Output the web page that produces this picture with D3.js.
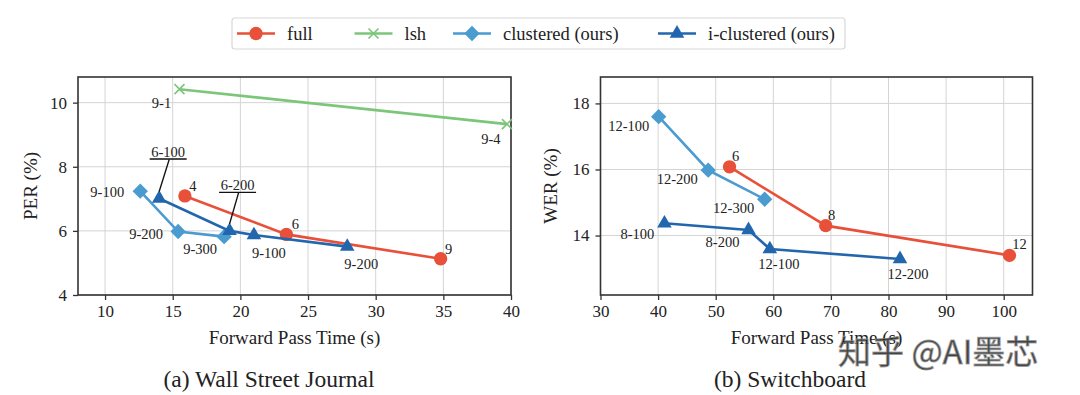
<!DOCTYPE html>
<html>
<head>
<meta charset="utf-8">
<script src="https://cdn.jsdelivr.net/npm/d3@7"></script>
<style>
  body { margin: 0; background: #fff; }
  text { font-family: "Liberation Serif", "DejaVu Serif", serif; fill: #222; }
</style>
</head>
<body>
<svg id="chart" width="1080" height="395" font-family="Liberation Serif, serif"></svg>
<script>
// series names + colours
const seriesNames = ["full", "lsh", "clustered (ours)", "i-clustered (ours)"];
const seriesColors = ["#e8503a", "#7cc67a", "#4a9bd0", "#2266ae"];

// (a) Wall Street Journal
const wsjFullTime = [15.9, 23.4, 34.8];
const wsjFullPER = [7.09, 5.89, 5.13];
const wsjFullLabels = ["4", "6", "9"];
const wsjLshTime = [15.5, 39.7];
const wsjLshPER = [10.42, 9.33];
const wsjLshLabels = ["9-1", "9-4"];
const wsjClTime = [12.6, 15.4, 18.8];
const wsjClPER = [7.24, 5.98, 5.82];
const wsjClLabels = ["9-100", "9-200", "9-300"];
const wsjIclTime = [14.0, 19.2, 21.0, 27.9];
const wsjIclPER = [7.01, 6.0, 5.87, 5.51];
const wsjIclLabels = ["6-100", "6-200", "9-100", "9-200"];
const wsjXTicks = [10, 15, 20, 25, 30, 35, 40];
const wsjYTicks = [4, 6, 8, 10];

// (b) Switchboard
const swbFullTime = [52.4, 69.1, 101.0];
const swbFullWER = [16.08, 14.3, 13.4];
const swbFullLabels = ["6", "8", "12"];
const swbClTime = [40.1, 48.7, 58.5];
const swbClWER = [17.6, 15.98, 15.1];
const swbClLabels = ["12-100", "12-200", "12-300"];
const swbIclTime = [41.1, 55.7, 59.4, 82.0];
const swbIclWER = [14.37, 14.17, 13.59, 13.29];
const swbIclLabels = ["8-100", "8-200", "12-100", "12-200"];
const swbXTicks = [30, 40, 50, 60, 70, 80, 90, 100];
const swbYTicks = [14, 16, 18];

const serif = "'Liberation Serif', 'DejaVu Serif', serif";
const svg = d3.select("#chart");

const zip = (xs, ys, ls) => xs.map((x, i) => ({x: x, y: ys[i], label: ls[i]}));

// marker shapes
const markerPath = function (kind) {
  if (kind === "circle") return d3.symbol().type(d3.symbolCircle).size(140)();
  if (kind === "diamond") return d3.symbol().type(d3.symbolSquare).size(118)();
  if (kind === "triangle") return d3.symbol().type(d3.symbolTriangle).size(92)();
  return "M-5,-5L5,5M-5,5L5,-5";
};
const markerKinds = ["circle", "x", "diamond", "triangle"];

const drawMarker = function (g, kind, color, x, y) {
  const p = g.append("path")
    .attr("d", markerPath(kind))
    .attr("transform", "translate(" + x + "," + y + ")" + (kind === "diamond" ? " rotate(45)" : ""));
  if (kind === "x") {
    p.attr("fill", "none").attr("stroke", color).attr("stroke-width", 1.6);
  } else {
    p.attr("fill", color);
  }
};

// draws one panel
const drawPanel = function (cfg) {
  const x = d3.scaleLinear().domain(cfg.xDomain).range([cfg.left, cfg.right]);
  const y = d3.scaleLinear().domain(cfg.yDomain).range([cfg.bottom, cfg.top]);
  const g = svg.append("g");

  // grid
  g.selectAll(".gx").data(cfg.xTicks).enter().append("line")
    .attr("x1", d => x(d)).attr("x2", d => x(d))
    .attr("y1", cfg.top).attr("y2", cfg.bottom)
    .attr("stroke", "#d4d4d4").attr("stroke-width", 1);
  g.selectAll(".gy").data(cfg.yTicks).enter().append("line")
    .attr("x1", cfg.left).attr("x2", cfg.right)
    .attr("y1", d => y(d)).attr("y2", d => y(d))
    .attr("stroke", "#d4d4d4").attr("stroke-width", 1);

  // axes
  const xAxis = g.append("g").attr("transform", "translate(0," + cfg.bottom + ")")
    .call(d3.axisBottom(x).tickValues(cfg.xTicks).tickFormat(d3.format("d"))
      .tickSize(5).tickPadding(5).tickSizeOuter(0));
  const yAxis = g.append("g").attr("transform", "translate(" + cfg.left + ",0)")
    .call(d3.axisLeft(y).tickValues(cfg.yTicks).tickFormat(d3.format("d"))
      .tickSize(5).tickPadding(6).tickSizeOuter(0));
  [xAxis, yAxis].forEach(a => {
    a.attr("font-family", null);
    a.select(".domain").remove();
    a.selectAll("line").attr("stroke", "#333").attr("stroke-width", 1.3);
    a.selectAll("text").style("font-family", serif)
      .style("font-size", "17px").attr("fill", "#222");
  });

  // frame
  g.append("rect")
    .attr("x", cfg.left).attr("y", cfg.top)
    .attr("width", cfg.right - cfg.left).attr("height", cfg.bottom - cfg.top)
    .attr("fill", "none").attr("stroke", "#333").attr("stroke-width", 1.6);

  // series
  const line = d3.line().x(d => x(d.x)).y(d => y(d.y));
  cfg.series.forEach(s => {
    g.append("path").datum(s.points)
      .attr("d", line)
      .attr("fill", "none")
      .attr("stroke", seriesColors[s.idx])
      .attr("stroke-width", 2.6);
    s.points.forEach(p => drawMarker(g, markerKinds[s.idx], seriesColors[s.idx], x(p.x), y(p.y)));
  });

  // point labels
  cfg.series.forEach(s => {
    s.points.forEach((p, i) => {
      const off = s.offsets[i];
      const cx = x(p.x) + off[0], cy = y(p.y) + off[1];
      g.append("text")
        .attr("x", cx).attr("y", cy)
        .attr("text-anchor", "middle")
        .attr("dominant-baseline", "central")
        .style("font-family", serif)
        .style("font-size", "14.5px")
        .text(p.label);
      if (off[2]) {
        // underline + leader line
        g.append("line")
          .attr("x1", cx - 18.5).attr("x2", cx + 18.5)
          .attr("y1", cy + 7.5).attr("y2", cy + 7.5)
          .attr("stroke", "#111").attr("stroke-width", 1.4);
        g.append("line")
          .attr("x1", cx + 1).attr("y1", cy + 8)
          .attr("x2", x(p.x)).attr("y2", y(p.y) - 7)
          .attr("stroke", "#111").attr("stroke-width", 1.4);
      }
    });
  });

  // axis titles
  g.append("text")
    .attr("x", (cfg.left + cfg.right) / 2).attr("y", 344)
    .attr("text-anchor", "middle")
    .style("font-family", serif)
    .style("font-size", "19px")
    .text("Forward Pass Time (s)");
  g.append("text")
    .attr("transform", "translate(" + cfg.yLabelX + "," + ((cfg.top + cfg.bottom) / 2) + ") rotate(-90)")
    .attr("text-anchor", "middle")
    .style("font-family", serif)
    .style("font-size", "19px")
    .text(cfg.yLabel);

  // caption
  g.append("text")
    .attr("x", cfg.captionX).attr("y", 387)
    .attr("text-anchor", "middle")
    .style("font-family", serif)
    .style("font-size", "23.5px")
    .attr("fill", "#111")
    .text(cfg.caption);
};

drawPanel({
  xDomain: [8, 40], yDomain: [4, 10.8],
  left: 78, right: 511, top: 77, bottom: 295,
  xTicks: wsjXTicks, yTicks: wsjYTicks,
  yLabel: "PER (%)", yLabelX: 37,
  caption: "(a) Wall Street Journal", captionX: 269,
  series: [
    {idx: 0, points: zip(wsjFullTime, wsjFullPER, wsjFullLabels), offsets: [[8, -10], [9, -10], [8, -10]]},
    {idx: 1, points: zip(wsjLshTime, wsjLshPER, wsjLshLabels), offsets: [[-18, 14], [-16, 15]]},
    {idx: 2, points: zip(wsjClTime, wsjClPER, wsjClLabels), offsets: [[-33, 1], [-32, 2], [-24, 12]]},
    {idx: 3, points: zip(wsjIclTime, wsjIclPER, wsjIclLabels), offsets: [[9, -47, 1], [8, -46, 1], [15, 18], [14, 17]]}
  ]
});

drawPanel({
  xDomain: [30, 105], yDomain: [12.2, 18.8],
  left: 600.5, right: 1032.5, top: 77, bottom: 295,
  xTicks: swbXTicks, yTicks: swbYTicks,
  yLabel: "WER (%)", yLabelX: 557,
  caption: "(b) Switchboard", captionX: 790,
  series: [
    {idx: 0, points: zip(swbFullTime, swbFullWER, swbFullLabels), offsets: [[6, -11], [6, -11], [10, -11]]},
    {idx: 2, points: zip(swbClTime, swbClWER, swbClLabels), offsets: [[-30, 9], [-31, 9], [-31, 9]]},
    {idx: 3, points: zip(swbIclTime, swbIclWER, swbIclLabels), offsets: [[-27, 11], [-26, 12], [9, 15], [8, 15]]}
  ]
});

// legend (entry x positions as in the figure)
const legendX = [237, 354.5, 453, 658];
const legend = svg.append("g");
legend.append("rect")
  .attr("x", 232).attr("y", 18).attr("width", 613).attr("height", 31).attr("rx", 3)
  .attr("fill", "#fff").attr("stroke", "#d8d8d8").attr("stroke-width", 1.2);
seriesNames.forEach((name, i) => {
  const lx = legendX[i];
  legend.append("line")
    .attr("x1", lx).attr("x2", lx + 38)
    .attr("y1", 33.5).attr("y2", 33.5)
    .attr("stroke", seriesColors[i]).attr("stroke-width", 2.6);
  drawMarker(legend, markerKinds[i], seriesColors[i], lx + 19, 33.5);
  legend.append("text")
    .attr("x", lx + 50).attr("y", 33.5)
    .attr("dominant-baseline", "central")
    .style("font-family", serif)
    .style("font-size", "18.5px")
    .text(name);
});

// watermark
svg.append("text")
  .attr("x", 838).attr("y", 364)
  .style("font-family", "'Noto Sans CJK SC', sans-serif")
  .style("font-size", "33px")
  .attr("fill", "#ffffff")
  .attr("fill-opacity", 0.85)
  .attr("stroke", "#9a9a9a")
  .attr("stroke-width", 1)
  .attr("stroke-opacity", 0.8)
  .text("知乎 @AI墨芯");
</script>
</body>
</html>
